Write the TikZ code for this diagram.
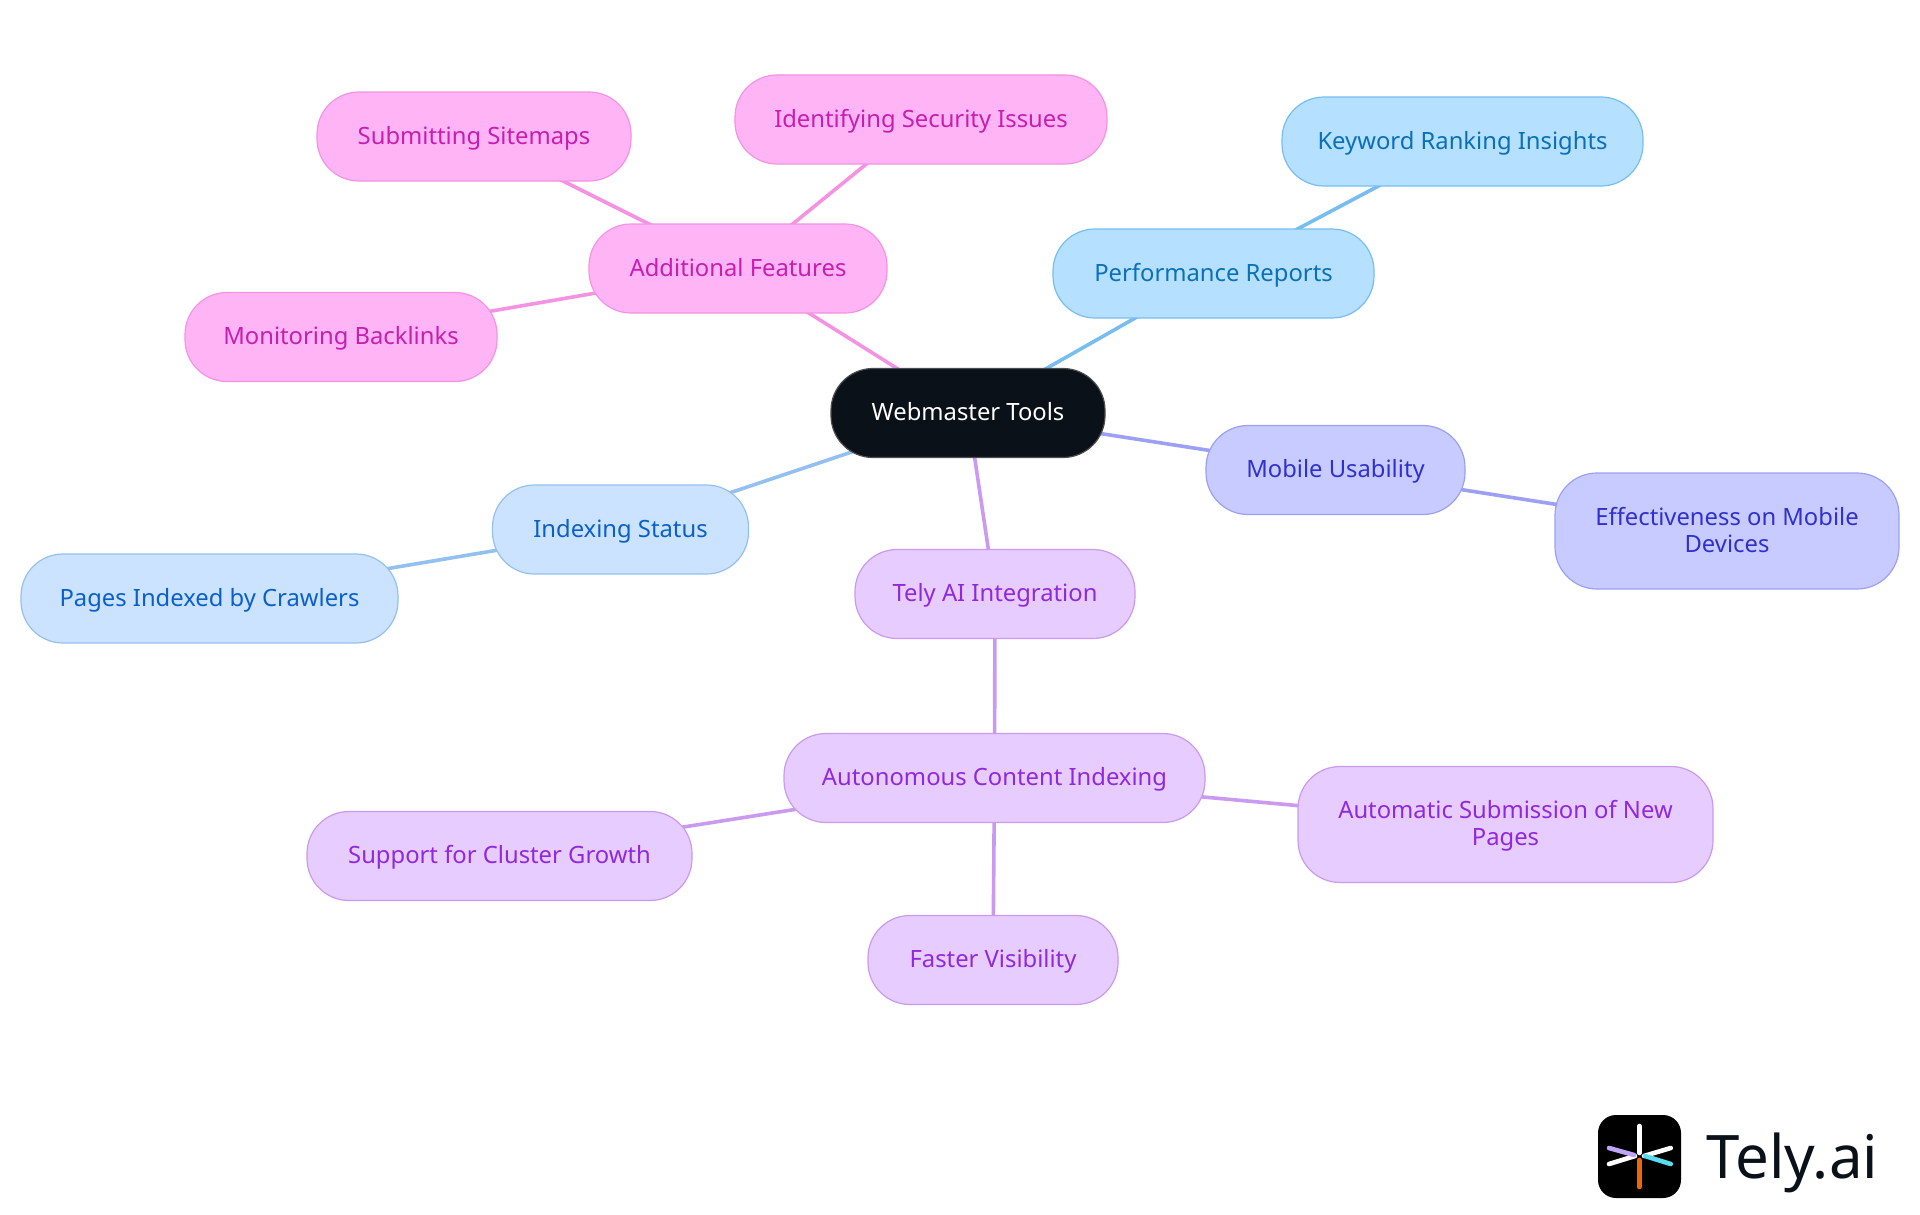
\documentclass[tikz,border=0pt]{standalone}
\usepackage{fontspec}
\setmainfont{Noto Sans}
\usetikzlibrary{backgrounds}
\definecolor{myink}{RGB}{11,17,25}
\definecolor{mypinkfill}{RGB}{255,181,245}
\definecolor{mypinkline}{RGB}{245,146,226}
\definecolor{mypinktext}{RGB}{199,29,176}
\definecolor{myskyfill}{RGB}{181,224,255}
\definecolor{myskyline}{RGB}{120,189,240}
\definecolor{myskytext}{RGB}{10,112,184}
\definecolor{myindigofill}{RGB}{200,203,255}
\definecolor{myindigoline}{RGB}{156,160,245}
\definecolor{myindigotext}{RGB}{48,48,204}
\definecolor{mybluefill}{RGB}{204,227,255}
\definecolor{myblueline}{RGB}{148,192,240}
\definecolor{mybluetext}{RGB}{11,96,200}
\definecolor{mypurplefill}{RGB}{231,204,255}
\definecolor{mypurpleline}{RGB}{201,154,240}
\definecolor{mypurpletext}{RGB}{144,40,220}
\definecolor{mylavender}{RGB}{190,165,250}
\definecolor{mycyan}{RGB}{90,220,240}
\definecolor{myorange}{RGB}{240,100,10}
\newcommand{\heightone}{89}
\newcommand{\heighttwo}{116}
\tikzset{
    common/.style={draw, rectangle, rounded corners=42, line width=1.2, align=center, inner sep=0, minimum height=\heightone, text height=18, text depth=2.5, font=\fontsize{23.8}{27}\selectfont},
    root/.style={common, fill=myink, draw=black!70!white, text=white},
    pinkbox/.style={common, fill=mypinkfill, draw=mypinkline, text=mypinktext},
    skybox/.style={common, fill=myskyfill, draw=myskyline, text=myskytext},
    indigobox/.style={common, fill=myindigofill, draw=myindigoline, text=myindigotext},
    bluebox/.style={common, fill=mybluefill, draw=myblueline, text=mybluetext},
    purplebox/.style={common, fill=mypurplefill, draw=mypurpleline, text=mypurpletext},
    twolines/.style={minimum height=\heighttwo, text height=45, text depth=2.5},
    link/.style={line width=3.6},
    ray/.style={line width=4.6, line cap=round}
}
\begin{document}
\begin{tikzpicture}[x=1pt, y=-1pt]
    \useasboundingbox (0,0) rectangle (1920,1215);

    \node[root, minimum width=274] (webmaster) at (968,413) {Webmaster Tools};

    \node[pinkbox, minimum width=298] (additional) at (738,268.5) {Additional Features};
    \node[pinkbox, minimum width=372] (security) at (921,119.5) {Identifying Security Issues};
    \node[pinkbox, minimum width=314] (sitemaps) at (474,136.5) {Submitting Sitemaps};
    \node[pinkbox, minimum width=312] (backlinks) at (341,337) {Monitoring Backlinks};

    \node[skybox, minimum width=321] (reports) at (1213.5,273.5) {Performance Reports};
    \node[skybox, minimum width=361] (keyword) at (1462.5,141.5) {Keyword Ranking Insights};

    \node[indigobox, minimum width=259] (mobile) at (1335.5,470) {Mobile Usability};
    \node[indigobox, twolines, minimum width=344] (effective) at (1727,531) {Effectiveness on Mobile\\Devices};

    \node[bluebox, minimum width=256] (indexing) at (620.5,529.5) {Indexing Status};
    \node[bluebox, minimum width=377] (crawlers) at (209.5,598.5) {Pages Indexed by Crawlers};

    \node[purplebox, minimum width=280] (tely) at (995,594) {Tely AI Integration};
    \node[purplebox, minimum width=421] (autonomous) at (994.5,778) {Autonomous Content Indexing};
    \node[purplebox, twolines, minimum width=415] (automatic) at (1505.5,824.5) {Automatic Submission of New\\Pages};
    \node[purplebox, minimum width=385] (cluster) at (499.5,856) {Support for Cluster Growth};
    \node[purplebox, minimum width=250] (faster) at (993,960) {Faster Visibility};

    \begin{scope}[on background layer]
        \draw[link, mypinkline] (webmaster.center) -- (additional.center);
        \draw[link, mypinkline] (additional.center) -- (security.center);
        \draw[link, mypinkline] (additional.center) -- (sitemaps.center);
        \draw[link, mypinkline] (additional.center) -- (backlinks.center);
        \draw[link, myskyline] (webmaster.center) -- (reports.center);
        \draw[link, myskyline] (reports.center) -- (keyword.center);
        \draw[link, myindigoline] (webmaster.center) -- (mobile.center);
        \draw[link, myindigoline] (mobile.center) -- (effective.center);
        \draw[link, myblueline] (webmaster.center) -- (indexing.center);
        \draw[link, myblueline] (indexing.center) -- (crawlers.center);
        \draw[link, mypurpleline] (webmaster.center) -- (tely.center);
        \draw[link, mypurpleline] (tely.center) -- (autonomous.center);
        \draw[link, mypurpleline] (autonomous.center) -- (automatic.center);
        \draw[link, mypurpleline] (autonomous.center) -- (cluster.center);
        \draw[link, mypurpleline] (autonomous.center) -- (faster.center);
    \end{scope}

    \node[fill=black, rectangle, rounded corners=18, minimum width=83, minimum height=83, inner sep=0] (logomark) at (1639.5,1156.5) {};
    \draw[ray, white] (1639.3,1126) -- (1639.3,1153);
    \draw[ray, white] (1609,1164) -- (1635,1156);
    \draw[ray, white] (1670.7,1148) -- (1644,1156);
    \draw[ray, mylavender] (1609,1148) -- (1634,1155);
    \draw[ray, mycyan] (1670.7,1164) -- (1645,1156);
    \draw[ray, myorange] (1639.3,1160) -- (1639.3,1187);
    \node[anchor=base west, inner sep=0, text=myink, font=\fontsize{60}{60}\selectfont] (wordmark) at (1706,1178) {Tely.ai};
\end{tikzpicture}
\end{document}
